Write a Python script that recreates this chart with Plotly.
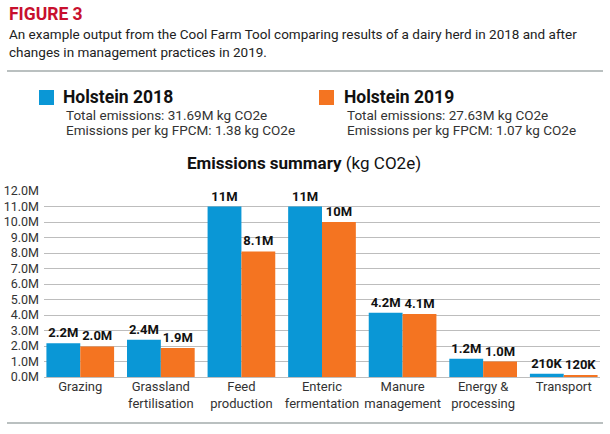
import plotly.graph_objects as go

W, H = 610, 434

categories = ["Grazing", "Grassland<br>fertilisation", "Feed<br>production", "Enteric<br>fermentation",
              "Manure<br>management", "Energy &<br>processing", "Transport"]
holstein_2018 = [2.17e6, 2.4e6, 11.0e6, 11.0e6, 4.15e6, 1.18e6, 0.21e6]
holstein_2019 = [1.97e6, 1.87e6, 8.1e6, 10.0e6, 4.07e6, 1.0e6, 0.12e6]
y_ticks = [i * 1e6 for i in range(0, 13)]

BLUE = "#0a97d6"
ORANGE = "#f47421"
FONT = "Roboto"


def fmt(v):
    if v >= 1e7:
        return f"{v/1e6:.0f}M"
    if v >= 1e6:
        return f"{v/1e6:.1f}M"
    return f"{v/1e3:.0f}K"


def px(x):
    return x / W


def py(y):
    return 1 - y / H


fig = go.Figure()
for name, vals, col in [("Holstein 2018", holstein_2018, BLUE), ("Holstein 2019", holstein_2019, ORANGE)]:
    fig.add_trace(go.Bar(
        x=categories, y=vals, name=name, marker=dict(color=col, line=dict(width=0)),
        text=[fmt(v) for v in vals], textposition="outside", constraintext="none",
        textfont=dict(family=FONT, size=13, color="#111", weight="bold"),
        cliponaxis=False, showlegend=False,
    ))

fig.update_layout(
    width=W, height=H, margin=dict(l=0, r=0, t=0, b=0),
    paper_bgcolor="white", plot_bgcolor="white",
    barmode="group", bargap=0.16, bargroupgap=0,
    font=dict(family=FONT, color="#333"),
    xaxis=dict(domain=[px(44), px(600)], automargin=False, showgrid=False, showline=False,
               range=[-0.45, 6.45],
               ticks="", tickfont=dict(size=13, color="#333"), fixedrange=True),
    yaxis=dict(domain=[py(377), py(191)], automargin=False, range=[0, 12e6],
               tickvals=y_ticks, ticktext=[f"{v/1e6:.1f}M" for v in y_ticks],
               showgrid=True, gridcolor="#bdbdbd", gridwidth=1.3, zeroline=True,
               zerolinecolor="#bdbdbd", zerolinewidth=1.3, showline=False, ticks="",
               ticklabelstandoff=4, tickfont=dict(size=12.5, color="#333")),
)

anns = [
    dict(x=px(7), y=py(14), text="<b>FIGURE 3</b>", font=dict(size=17.5, color="#c8102e")),
    dict(x=px(7), y=py(34), text="An example output from the Cool Farm Tool comparing results of a dairy herd in 2018 and after",
         font=dict(size=13.5, color="#222")),
    dict(x=px(7), y=py(52), text="changes in management practices in 2019.", font=dict(size=13.5, color="#222")),
    dict(x=px(61), y=py(97), text="<b>Holstein 2018</b>", font=dict(size=17.5, color="#111")),
    dict(x=px(64), y=py(115), text="Total emissions: 31.69M kg CO2e", font=dict(size=13.5, color="#333")),
    dict(x=px(64), y=py(130), text="Emissions per kg FPCM: 1.38 kg CO2e", font=dict(size=13.5, color="#333")),
    dict(x=px(342), y=py(97), text="<b>Holstein 2019</b>", font=dict(size=17.5, color="#111")),
    dict(x=px(345), y=py(115), text="Total emissions: 27.63M kg CO2e", font=dict(size=13.5, color="#333")),
    dict(x=px(345), y=py(130), text="Emissions per kg FPCM: 1.07 kg CO2e", font=dict(size=13.5, color="#333")),
]
for a in anns:
    fig.add_annotation(xref="paper", yref="paper", xanchor="left", yanchor="middle",
                       showarrow=False, font_family=FONT, **a)

fig.add_annotation(xref="paper", yref="paper", x=px(304), y=py(163), xanchor="center", yanchor="middle",
                   showarrow=False, text="<b>Emissions summary</b> (kg CO2e)",
                   font=dict(family=FONT, size=17, color="#111"))

shapes = [
    dict(type="rect", x0=px(39), x1=px(54), y0=py(105), y1=py(90), fillcolor=BLUE),
    dict(type="rect", x0=px(319), x1=px(334), y0=py(105), y1=py(90), fillcolor=ORANGE),
]
for s in shapes:
    fig.add_shape(xref="paper", yref="paper", line=dict(width=0), **s)
for yy in (71, 423):
    fig.add_shape(type="line", xref="paper", yref="paper", x0=px(7), x1=px(603), y0=py(yy), y1=py(yy),
                  line=dict(color="#a3abab", width=1.5))

fig.write_html("out.html")
